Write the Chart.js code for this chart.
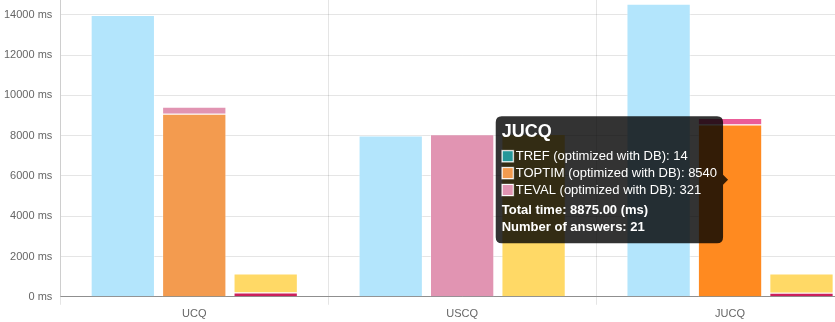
<!DOCTYPE html>
<html>
<head>
<meta charset="utf-8">
<script src="https://cdn.jsdelivr.net/npm/chart.js"></script>
<style>
  html, body { margin: 0; padding: 0; background: #fff; overflow: hidden; }
  #wrap { position: absolute; left: -4px; top: -40px; width: 870px; height: 364px; }
</style>
</head>
<body>
<div id="wrap"><canvas id="myChart"></canvas></div>
<script>
// data (ms)
var queries = ["UCQ", "USCQ", "JUCQ"];
var timeNoDb = [14000, 8010, 14550];
var trefDb = [15, 12, 14];
var toptimDb = [9070, 0, 8540];
var tevalDb = [355, 8062, 321];
var trefCost = [215, 0, 200];
var tevalCost = [945, 8080, 960];
var answers = [21, 21, 21];
var yTicks = [0, 2000, 4000, 6000, 8000, 10000, 12000, 14000, 16000];

document.addEventListener("DOMContentLoaded", function () {
    Chart.defaults.font.family = "'Liberation Sans', Arial, sans-serif";
    Chart.defaults.font.size = 11;
    Chart.defaults.color = "#666";

    var ctx = document.getElementById("myChart").getContext("2d");
    var myChart = new Chart(ctx, {
        type: "bar",
        data: {
            labels: queries,
            datasets: [{
                label: "Total time (without DB)",
                data: timeNoDb,
                stack: "plain",
                backgroundColor: "#b3e5fc",
                hoverBackgroundColor: "#8fd8fa"
            }, {
                label: "TREF (optimized with DB)",
                data: trefDb,
                stack: "db",
                backgroundColor: "rgb(38, 151, 153)",
                hoverBackgroundColor: "rgb(30, 120, 122)"
            }, {
                label: "TOPTIM (optimized with DB)",
                data: toptimDb,
                stack: "db",
                backgroundColor: "rgb(243, 155, 79)",
                hoverBackgroundColor: "rgb(255, 138, 32)"
            }, {
                label: "TEVAL (optimized with DB)",
                data: tevalDb,
                stack: "db",
                backgroundColor: "rgb(225, 148, 178)",
                hoverBackgroundColor: "rgb(234, 92, 152)"
            }, {
                label: "TREF (optimized with cost)",
                data: trefCost,
                stack: "cost",
                backgroundColor: "rgb(204, 32, 92)",
                hoverBackgroundColor: "rgb(180, 20, 75)"
            }, {
                label: "TEVAL (optimized with cost)",
                data: tevalCost,
                stack: "cost",
                backgroundColor: "rgb(255, 217, 102)",
                hoverBackgroundColor: "rgb(255, 205, 60)"
            }]
        },
        options: {
            responsive: true,
            maintainAspectRatio: false,
            animation: false,
            datasets: {
                bar: {
                    borderWidth: 1,
                    borderColor: "rgba(255, 255, 255, 0.35)",
                    hoverBorderColor: "rgba(255, 255, 255, 0.35)"
                }
            },
            layout: { padding: { left: 0, right: 2, top: 0, bottom: 0 } },
            plugins: {
                legend: { display: false },
                tooltip: {
                    backgroundColor: "rgba(0, 0, 0, 0.8)",
                    titleFont: { size: 18, weight: "bold", lineHeight: 1.2 },
                    bodyFont: { size: 13, lineHeight: 1.3 },
                    footerFont: { size: 13, weight: "bold", lineHeight: 1.3 },
                    titleMarginBottom: 5,
                    bodySpacing: 0,
                    footerSpacing: 0,
                    footerMarginTop: 4,
                    padding: { left: 6, right: 6, top: 5, bottom: 7 },
                    cornerRadius: 6,
                    caretSize: 5,
                    boxWidth: 12,
                    boxHeight: 12,
                    callbacks: {
                        title: function (items) {
                            return items[0].label;
                        },
                        label: function (item) {
                            return item.dataset.label + ": " + item.raw;
                        },
                        footer: function (items) {
                            var total = 0;
                            items.forEach(function (it) { total += it.raw; });
                            return [
                                "Total time: " + total.toFixed(2) + " (ms)",
                                "Number of answers: " + answers[items[0].dataIndex]
                            ];
                        }
                    }
                }
            },
            scales: {
                x: {
                    stacked: true,
                    grid: {
                        color: "rgba(0, 0, 0, 0.1)",
                        tickLength: 8
                    },
                    border: { color: "rgba(0, 0, 0, 0.25)" },
                    ticks: { color: "#666" }
                },
                y: {
                    stacked: true,
                    min: yTicks[0],
                    max: yTicks[yTicks.length - 1],
                    grid: {
                        drawTicks: false,
                        color: function (c) {
                            return c.tick && c.tick.value === 0 ? "rgba(0, 0, 0, 0.25)" : "rgba(0, 0, 0, 0.1)";
                        }
                    },
                    border: { color: "rgba(0, 0, 0, 0.1)" },
                    afterBuildTicks: function (axis) {
                        axis.ticks = yTicks.map(function (v) { return { value: v }; });
                    },
                    ticks: {
                        padding: 8,
                        color: "#666",
                        callback: function (value) {
                            return value + " ms";
                        }
                    }
                }
            }
        }
    });

    // show the hover state on the JUCQ "with DB" stack
    var active = [
        { datasetIndex: 1, index: 2 },
        { datasetIndex: 2, index: 2 },
        { datasetIndex: 3, index: 2 }
    ];
    myChart.setActiveElements(active);
    myChart.tooltip.setActiveElements(active, { x: 727, y: 212 });
    myChart.update();
});
</script>
</body>
</html>
